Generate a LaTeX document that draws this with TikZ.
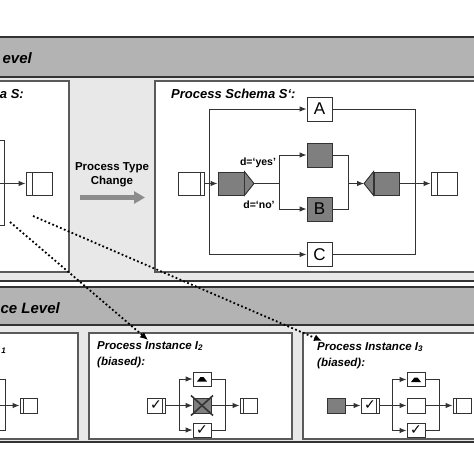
\documentclass[tikz,border=0pt]{standalone}
\usepackage{fontspec}
\setmainfont{Liberation Sans}
\newfontfamily\symfont{DejaVu Sans}
\usetikzlibrary{arrows.meta,calc}
\definecolor{bandgray}{HTML}{B3B3B3}
\definecolor{bodygray}{HTML}{E8E8E8}
\definecolor{nodegray}{HTML}{7F7F7F}
\definecolor{edgecol}{HTML}{333333}
\definecolor{panelcol}{HTML}{5A5A5A}
\tikzset{
  frame/.style={draw=edgecol, line width=1.6pt},
  panel/.style={draw=panelcol, line width=1.3pt, fill=white},
  act/.style={draw=edgecol, line width=0.9pt, fill=white, minimum width=25pt, minimum height=24pt, inner sep=0pt, font=\fontsize{17}{17}\selectfont},
  sact/.style={draw=edgecol, line width=0.9pt, fill=white, minimum width=18pt, minimum height=15pt, inner sep=0pt},
  grayfill/.style={fill=nodegray},
  startbar/.style={path picture={\draw[edgecol, line width=0.8pt] ([xshift=-#1]path picture bounding box.north east) -- ([xshift=-#1]path picture bounding box.south east);}},
  endbar/.style={path picture={\draw[edgecol, line width=0.8pt] ([xshift=#1]path picture bounding box.north west) -- ([xshift=#1]path picture bounding box.south west);}},
  mound/.style={path picture={\fill[black] ([shift={(-5pt,-2.5pt)}]path picture bounding box.center) -- ([shift={(-1.5pt,2pt)}]path picture bounding box.center) -- ([shift={(1.5pt,2pt)}]path picture bounding box.center) -- ([shift={(5pt,-2.5pt)}]path picture bounding box.center) -- cycle;}},
  flow/.style={draw=edgecol, line width=0.9pt},
  arr/.style={flow, -{Latex[length=7pt,width=5.5pt]}},
  dotarr/.style={draw=black, line width=1.8pt, dash pattern=on 1.8pt off 2.4pt, -{Latex[length=8pt,width=7pt]}},
  title/.style={font=\fontsize{13}{15}\selectfont\bfseries\itshape, inner sep=0pt},
  ititle/.style={font=\fontsize{11.5}{13}\selectfont\bfseries\itshape, inner sep=0pt},
  bandtext/.style={font=\fontsize{15}{17}\selectfont\bfseries\itshape, inner sep=0pt},
  cond/.style={font=\fontsize{10.5}{12}\selectfont\bfseries, inner sep=0pt},
  chk/.style={font=\symfont\bfseries\fontsize{14}{14}\selectfont}
}
\begin{document}
\begin{tikzpicture}[x=1pt,y=-1pt]
\useasboundingbox (0,0) rectangle (474,474);
\clip (0,0) rectangle (474,474);
\fill[white] (0,0) rectangle (474,474);
% ---------- type level frame ----------
\path[fill=bodygray] (-5,37) rectangle (480,281);
\path[fill=bandgray] (-5,38) rectangle (480,77);
\draw[frame] (-5,77) -- (480,77);
\draw[frame] (-5,37) rectangle (480,281);
\node[bandtext, anchor=base east] (tl) at (32,63) {evel};
% panels
\draw[panel] (-5,81) rectangle (69,272);
\draw[panel] (155,81) rectangle (480,272);
% ---------- instance level frame ----------
\path[fill=bodygray] (-5,287) rectangle (480,442);
\path[fill=bandgray] (-5,287) rectangle (480,325);
\draw[frame] (-5,325) -- (480,325);
\draw[frame] (-5,287) rectangle (480,442);
\node[bandtext, anchor=base east] (il) at (60,313) {ce Level};
\draw[panel] (-5,333) rectangle (78,439);
\draw[panel] (89,333) rectangle (292,439);
\draw[panel] (303,333) rectangle (480,439);
% ---------- schema S (left, cut) ----------
\node[title, anchor=base east] (ts) at (24,98) {a S:};
\coordinate (sjt0) at (-5,140);
\coordinate (sjt) at (4,140);
\coordinate (sjb) at (4,225);
\coordinate (sjb0) at (-5,225);
\coordinate (sin) at (-5,183.5);
\node[act, minimum width=26pt, minimum height=23pt, endbar=6pt] (send0) at (39,183.5) {};
\draw[flow] (sjt0) -- (sjt) -- (sjb) -- (sjb0);
\draw[arr] (sin) -- (send0.west);
% ---------- process type change ----------
\node[cond, font=\fontsize{11.5}{14}\selectfont\bfseries, align=center] (ptc) at (112,175) {Process Type\\Change};
\coordinate (pa) at (80,197.5);
\coordinate (pb) at (145,197.5);
\draw[draw=nodegray!90!white, line width=5pt, -{Triangle[length=11pt,width=12pt]}] (pa) -- (pb);
% ---------- schema S' ----------
\node[title, anchor=base west] (tsp) at (171,98) {Process Schema S‘:};
\node[act, minimum width=26pt, minimum height=23pt, startbar=4pt] (sstart) at (191,183.5) {};
\node[act, grayfill, minimum width=26pt, minimum height=23pt] (split) at (231,183.5) {};
\coordinate (splittip) at (254,183.5);
\draw[flow, fill=nodegray] (split.north east) -- (splittip) -- (split.south east) -- cycle;
\node[act] (A) at (319.5,109) {A};
\node[act, grayfill] (G) at (319.5,155) {};
\node[act, grayfill] (B) at (319.5,209) {B};
\node[act] (C) at (319.5,254.5) {C};
\node[act, grayfill, minimum height=23pt] (join) at (386.5,183.5) {};
\coordinate (jointip) at (364,183.5);
\draw[flow, fill=nodegray] (join.north west) -- (jointip) -- (join.south west) -- cycle;
\node[act, minimum width=26pt, minimum height=23pt, endbar=6pt] (send) at (444,183.5) {};
\coordinate (pl) at (209,183.5);
\coordinate (pr) at (415,183.5);
\coordinate (xs) at (279,183.5);
\coordinate (xj) at (348,183.5);
\draw[arr] (sstart.east) -- (split.west);
\draw[arr] (pl) |- (A.west);
\draw[arr] (pl) |- (C.west);
\draw[flow] (A.east) -| (pr);
\draw[flow] (C.east) -| (pr);
\draw[flow] (splittip) -- (xs);
\draw[arr] (xs) |- (G.west);
\draw[arr] (xs) |- (B.west);
\draw[flow] (G.east) -| (xj);
\draw[flow] (B.east) -| (xj);
\draw[arr] (xj) -- (jointip);
\draw[arr] (join.east) -- (send.west);
\node[cond] (dyes) at (258,163) {d=‘yes’};
\node[cond] (dno) at (259,205) {d=‘no’};
% ---------- instance I1 (cut) ----------
\node[ititle, font=\fontsize{8}{9}\selectfont\bfseries\itshape] (ti1) at (3.5,351) {1};
\coordinate (i1t0) at (-5,379);
\coordinate (i1t) at (5,379);
\coordinate (i1b) at (5,430);
\coordinate (i1b0) at (-5,430);
\coordinate (i1in) at (-5,405.5);
\node[sact, minimum width=17pt, endbar=3pt] (e1) at (28.5,405.5) {};
\draw[flow] (i1t0) -- (i1t) -- (i1b) -- (i1b0);
\draw[arr] (i1in) -- (e1.west);
% ---------- instance I2 ----------
\node[ititle, anchor=base west] (ti2) at (97,349) {Process Instance \textit{I}\textsubscript{2}};
\node[ititle, anchor=base west] (ti2b) at (97,365) {(biased):};
\node[sact, startbar=3pt, chk] (c2) at (156,405.5) {✓};
\node[sact, minimum height=14pt, mound] (t2) at (202,379) {};
\node[sact, grayfill] (m2) at (202,405.5) {};
\draw[edgecol, line width=1.6pt] ($(m2.center)+(-11,-10)$) -- ($(m2.center)+(11,10)$);
\draw[edgecol, line width=1.6pt] ($(m2.center)+(-11,10)$) -- ($(m2.center)+(11,-10)$);
\node[sact, minimum height=14pt, chk] (k2) at (202,430) {✓};
\node[sact, minimum width=17pt, endbar=3pt] (e2) at (248.5,405.5) {};
\coordinate (x2l) at (179,405.5);
\coordinate (x2r) at (225,405.5);
\draw[arr] (c2.east) -- (m2.west);
\draw[arr] (x2l) |- (t2.west);
\draw[arr] (x2l) |- (k2.west);
\draw[flow] (t2.east) -| (x2r);
\draw[flow] (k2.east) -| (x2r);
\draw[arr] (m2.east) -- (e2.west);
% ---------- instance I3 ----------
\node[ititle, anchor=base west] (ti3) at (317,350) {Process Instance \textit{I}\textsubscript{3}};
\node[ititle, anchor=base west] (ti3b) at (317,366) {(biased):};
\node[sact, grayfill] (g3) at (336,405.5) {};
\node[sact, startbar=3pt, chk] (c3) at (370,405.5) {✓};
\node[sact, minimum height=14pt, mound] (t3) at (416,379.5) {};
\node[sact] (m3) at (416,405.5) {};
\node[sact, minimum height=14pt, chk] (k3) at (416,430.5) {✓};
\node[sact, endbar=3pt] (e3) at (462,405.5) {};
\coordinate (x3l) at (392,405.5);
\coordinate (x3r) at (439,405.5);
\draw[arr] (g3.east) -- (c3.west);
\draw[arr] (c3.east) -- (m3.west);
\draw[arr] (x3l) |- (t3.west);
\draw[arr] (x3l) |- (k3.west);
\draw[flow] (t3.east) -| (x3r);
\draw[flow] (k3.east) -| (x3r);
\draw[arr] (m3.east) -- (e3.west);
% ---------- dotted mapping arrows ----------
\coordinate (d1s) at (10,222);
\coordinate (d1e) at (148,340);
\coordinate (d2s) at (33,216);
\coordinate (d2e) at (322,341);
\draw[dotarr] (d1s) -- (d1e);
\draw[dotarr] (d2s) -- (d2e);
\end{tikzpicture}
\end{document}
